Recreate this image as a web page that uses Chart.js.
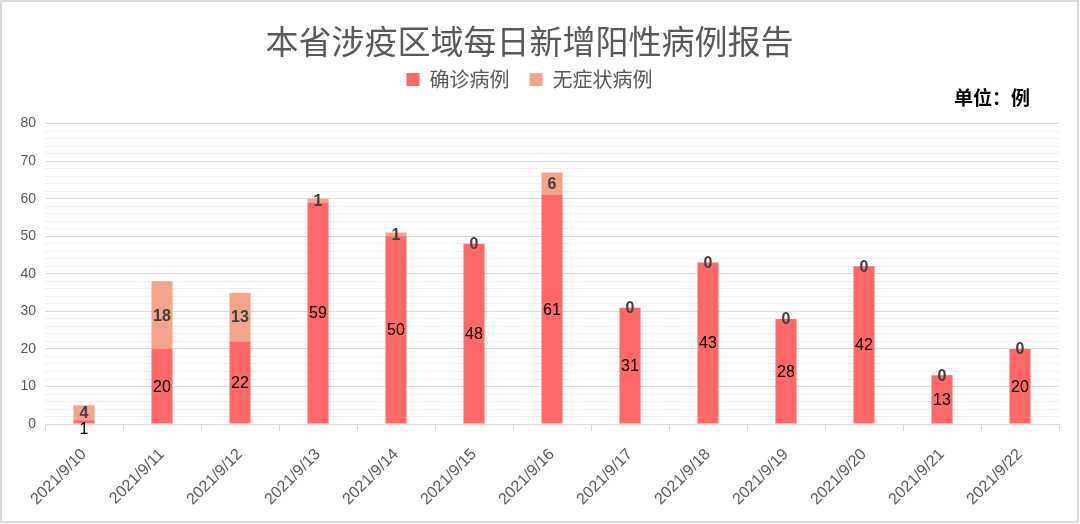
<!DOCTYPE html>
<html>
<head>
<meta charset="utf-8">
<script src="https://cdn.jsdelivr.net/npm/chart.js@4.4.0/dist/chart.umd.min.js"></script>
<style>
html,body{margin:0;padding:0;background:#ffffff;}
#wrap{width:1080px;height:524px;position:relative;}
canvas{display:block;}
</style>
</head>
<body>
<div id="wrap"><canvas id="c" width="1080" height="524"></canvas></div>
<script>
// ---- data ----
const categories = ['2021/9/10','2021/9/11','2021/9/12','2021/9/13','2021/9/14','2021/9/15','2021/9/16','2021/9/17','2021/9/18','2021/9/19','2021/9/20','2021/9/21','2021/9/22'];
const confirmedCases = [1, 20, 22, 59, 50, 48, 61, 31, 43, 28, 42, 13, 20];
const asymptomaticCases = [4, 18, 13, 1, 1, 0, 6, 0, 0, 0, 0, 0, 0];
const seriesNames = ['确诊病例', '无症状病例'];
const yTickLabels = [0, 10, 20, 30, 40, 50, 60, 70, 80];
const titleText = '本省涉疫区域每日新增阳性病例报告';
const unitText = '单位：例';

const CJK = "'Noto Sans CJK SC', 'Noto Sans', sans-serif";
const NUM = "'Liberation Sans', 'Noto Sans CJK SC', sans-serif";

const framePlugin = {
  id: 'frame',
  beforeDraw(chart) {
    const ctx = chart.ctx;
    ctx.save();
    ctx.fillStyle = '#ffffff';
    ctx.fillRect(0, 0, chart.width, chart.height);
    ctx.restore();
  },
  afterDraw(chart) {
    const ctx = chart.ctx;
    ctx.save();
    ctx.strokeStyle = '#d9d9d9';
    ctx.lineWidth = 2;
    ctx.strokeRect(1, 1, chart.width - 3, chart.height - 3);
    ctx.fillStyle = '#000000';
    ctx.font = 'bold 19px ' + CJK;
    ctx.textAlign = 'right';
    ctx.textBaseline = 'middle';
    ctx.fillText(unitText, chart.chartArea.right - 29, 98);
    ctx.restore();
  }
};

const barLabelPlugin = {
  id: 'barLabels',
  afterDatasetsDraw(chart) {
    const ctx = chart.ctx;
    ctx.save();
    ctx.textAlign = 'center';
    ctx.textBaseline = 'middle';
    chart.data.datasets.forEach((ds, i) => {
      const meta = chart.getDatasetMeta(i);
      ctx.fillStyle = i === 0 ? '#000000' : '#404040';
      ctx.font = (i === 0 ? '' : 'bold ') + '16px ' + NUM;
      meta.data.forEach((bar, j) => {
        const p = bar.getProps(['x', 'y', 'base'], true);
        let cy = (p.y + p.base) / 2;
        const h = Math.abs(p.base - p.y);
        // too thin a bottom segment: put its label just under the axis
        if (i === 0 && h > 0 && h < 10) cy = p.base + 5;
        ctx.fillText(String(ds.data[j]), p.x, cy + 1);
      });
    });
    ctx.restore();
  }
};

new Chart(document.getElementById('c'), {
  type: 'bar',
  data: {
    labels: categories,
    datasets: [
      { label: seriesNames[0], data: confirmedCases, backgroundColor: '#FF6868', borderWidth: 0 },
      { label: seriesNames[1], data: asymptomaticCases, backgroundColor: '#F3A48B', borderWidth: 0 }
    ]
  },
  options: {
    responsive: false,
    animation: false,
    devicePixelRatio: 1,
    layout: { padding: { left: 0, right: 21, top: 0, bottom: 1 } },
    datasets: { bar: { categoryPercentage: 1.0, barPercentage: 0.27 } },
    plugins: {
      title: {
        display: true, text: titleText, color: '#595959',
        font: { family: CJK, size: 33, weight: 'normal' },
        padding: { top: 22, bottom: -12 }
      },
      subtitle: {
        display: true, text: unitText, color: 'rgba(0,0,0,0)', weight: 500,
        font: { family: CJK, size: 19, weight: 'bold', lineHeight: 1 },
        padding: { top: 0, bottom: 5 }
      },
      legend: {
        display: true, position: 'top',
        labels: {
          color: '#595959', boxWidth: 13, boxHeight: 13, padding: 20,
          font: { family: CJK, size: 20 }
        }
      },
      tooltip: { enabled: false }
    },
    scales: {
      x: {
        stacked: true,
        grid: { display: true, offset: true, drawOnChartArea: false, drawTicks: true, tickLength: 7, color: '#d9d9d9' },
        border: { display: true, color: '#d9d9d9', width: 1 },
        ticks: { color: '#595959', font: { family: NUM, size: 16 }, maxRotation: 45, minRotation: 45, autoSkip: false, padding: 14 }
      },
      y: {
        stacked: true, min: 0, max: 80,
        afterFit(scale) { scale.width = 45; },
        border: { display: false },
        grid: {
          drawTicks: false,
          color: (ctx) => (ctx.tick && ctx.tick.value % 10 === 0) ? '#d9d9d9' : '#efefef',
          lineWidth: 1
        },
        ticks: {
          stepSize: 2, autoSkip: false, padding: 9, color: '#595959', font: { family: NUM, size: 14 },
          callback: (v) => yTickLabels.includes(v) ? String(v) : ''
        }
      }
    }
  },
  plugins: [framePlugin, barLabelPlugin]
});
</script>
</body>
</html>
